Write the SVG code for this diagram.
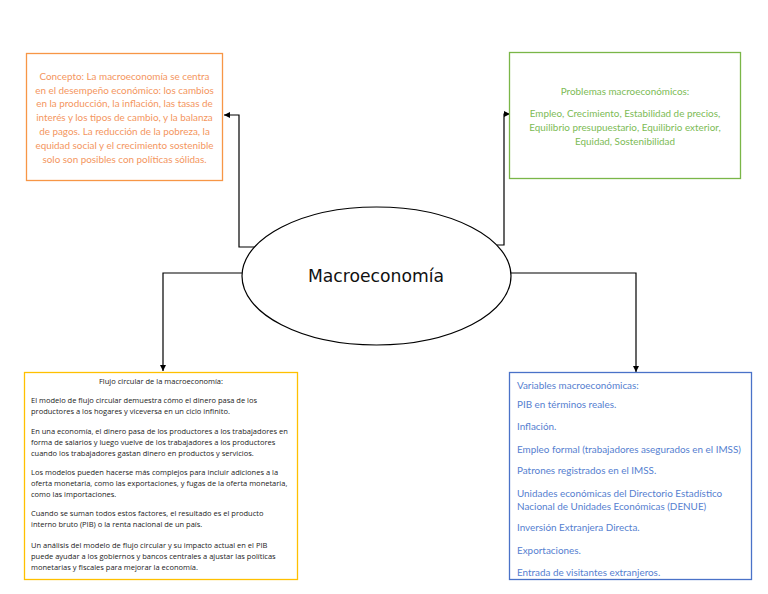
<svg xmlns="http://www.w3.org/2000/svg" width="768" height="594" viewBox="0 0 768 594">
<defs>
<marker id="arr" viewBox="0 0 10 10" refX="10" refY="5" markerWidth="6" markerHeight="6" markerUnits="userSpaceOnUse" orient="auto">
<path d="M0,0 L10,5 L0,10 z" fill="#000"/>
</marker>
<style>
.box{fill:#fff;stroke-width:1.3}
.conn{fill:none;stroke:#000;stroke-width:1.2;marker-end:url(#arr)}
.or{fill:#F49660;font-family:Lato,"Open Sans",sans-serif;font-size:9.9px;text-anchor:middle}
.gr{fill:#7CBB55;font-family:Lato,"Open Sans",sans-serif;font-size:9.9px;text-anchor:middle}
.ye{fill:#222;font-family:"Open Sans","Noto Sans",sans-serif;font-size:7.5px}
.bl{fill:#5580D0;font-family:Lato,"Open Sans",sans-serif;font-size:9.9px}
</style>
</defs>
<rect width="768" height="594" fill="#fff"/>
<g id="connectors">
<path class="conn" d="M256,247 H239 V115 H224"/>
<path class="conn" d="M497,245 H504 V114 H510"/>
<path class="conn" d="M242,273 H163 V371"/>
<path class="conn" d="M511,273 H636 V372"/>
</g>
<g id="center">
<ellipse cx="376.5" cy="276" rx="134.5" ry="69" fill="#fff" stroke="#000" stroke-width="1.2"/>
<text x="376" y="282" font-family="DejaVu Sans Condensed, DejaVu Sans, sans-serif" font-size="17" text-anchor="middle" fill="#111" textLength="136" lengthAdjust="spacingAndGlyphs">Macroeconomía</text>
</g>
<g id="concepto">
<rect class="box" x="26.5" y="53.5" width="196" height="127" stroke="#F79646"/>
<text class="or" x="124.5" y="79.5">Concepto: La macroeconomía se centra</text>
<text class="or" x="124.5" y="93.5">en el desempeño económico: los cambios</text>
<text class="or" x="124.5" y="107">en la producción, la inflación, las tasas de</text>
<text class="or" x="124.5" y="121">interés y los tipos de cambio, y la balanza</text>
<text class="or" x="124.5" y="135">de pagos. La reducción de la pobreza, la</text>
<text class="or" x="124.5" y="149">equidad social y el crecimiento sostenible</text>
<text class="or" x="124.5" y="163">solo son posibles con políticas sólidas.</text>
</g>
<g id="problemas">
<rect class="box" x="509.5" y="52.5" width="231" height="126" stroke="#7AB648"/>
<text class="gr" x="625" y="95">Problemas macroeconómicos:</text>
<text class="gr" x="625" y="116.5">Empleo, Crecimiento, Estabilidad de precios,</text>
<text class="gr" x="625" y="130.5">Equilibrio presupuestario, Equilibrio exterior,</text>
<text class="gr" x="625" y="144.5">Equidad, Sostenibilidad</text>
</g>
<g id="flujo">
<rect class="box" x="24.5" y="372.5" width="273" height="207" stroke="#FFC000"/>
<text class="ye" x="161" y="384" text-anchor="middle">Flujo circular de la macroeconomía:</text>
<text class="ye" x="31" y="403">El modelo de flujo circular demuestra cómo el dinero pasa de los</text>
<text class="ye" x="31" y="414">productores a los hogares y viceversa en un ciclo infinito.</text>
<text class="ye" x="31" y="434">En una economía, el dinero pasa de los productores a los trabajadores en</text>
<text class="ye" x="31" y="445">forma de salarios y luego vuelve de los trabajadores a los productores</text>
<text class="ye" x="31" y="456">cuando los trabajadores gastan dinero en productos y servicios.</text>
<text class="ye" x="31" y="475">Los modelos pueden hacerse más complejos para incluir adiciones a la</text>
<text class="ye" x="31" y="486">oferta monetaria, como las exportaciones, y fugas de la oferta monetaria,</text>
<text class="ye" x="31" y="497">como las importaciones.</text>
<text class="ye" x="31" y="516">Cuando se suman todos estos factores, el resultado es el producto</text>
<text class="ye" x="31" y="527">interno bruto (PIB) o la renta nacional de un país.</text>
<text class="ye" x="31" y="548">Un análisis del modelo de flujo circular y su impacto actual en el PIB</text>
<text class="ye" x="31" y="559">puede ayudar a los gobiernos y bancos centrales a ajustar las políticas</text>
<text class="ye" x="31" y="570">monetarias y fiscales para mejorar la economía.</text>
</g>
<g id="variables">
<rect class="box" x="509.5" y="372.5" width="242" height="207" stroke="#4A72C8"/>
<text class="bl" x="517" y="388.5">Variables macroeconómicas:</text>
<text class="bl" x="517" y="407.5">PIB en términos reales.</text>
<text class="bl" x="517" y="429.5">Inflación.</text>
<text class="bl" x="517" y="452.5">Empleo formal (trabajadores asegurados en el IMSS)</text>
<text class="bl" x="517" y="473.5">Patrones registrados en el IMSS.</text>
<text class="bl" x="517" y="496.5">Unidades económicas del Directorio Estadístico</text>
<text class="bl" x="517" y="509.5">Nacional de Unidades Económicas (DENUE)</text>
<text class="bl" x="517" y="530.5">Inversión Extranjera Directa.</text>
<text class="bl" x="517" y="553.5">Exportaciones.</text>
<text class="bl" x="517" y="575.5">Entrada de visitantes extranjeros.</text>
</g>
</svg>
